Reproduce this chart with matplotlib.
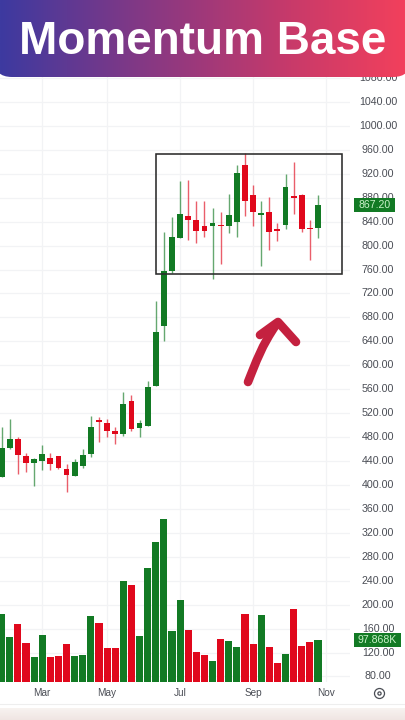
import numpy as np
import matplotlib
matplotlib.use("Agg")
import matplotlib.pyplot as plt
from matplotlib.patches import Rectangle, FancyBboxPatch, PathPatch
from matplotlib.path import Path

opens  = [414,461,476,449,437,440,445,448,426,415,432,452,507,504,490,486,541,495,499,565,665,758,812,849,842,832,832,834,833,839,935,885,851,856,826,834,882,885,830,829]
closes = [462,476,450,437,443,452,435,428,417,438,450,497,505,490,485,535,493,503,564,656,757,814,852,843,824,825,838,832,851,922,874,857,855,822,824,898,880,828,827,867.2]
highs  = [497,510,481,453,445,466,453,448,435,443,460,515,513,511,497,555,551,509,574,708,822,847,908,910,874,874,863,856,887,935,954,901,874,881,838,919,940,886,843,884]
lows   = [414,460,418,422,399,425,425,426,388,415,429,446,472,481,469,482,491,481,499,565,641,754,812,810,805,815,745,770,821,815,849,833,766,793,808,827,852,823,776,812]
volumes_k = [157,105,135,89,58,108,58,60,87,59,62,153,136,78,78,233,223,106,264,324,376,118,189,119,69,62,49,99,95,81,157,88,155,80,45,65,169,83,92,97.868]
month_positions = [5,13,22,31,40]
month_labels = ["Mar","May","Jul","Sep","Nov"]
price_ticks = list(range(80,1081,40))
last_price = "867.20"
last_volume = "97.868K"
title = "Momentum Base"

GREEN="#127a24"; RED="#e0081c"; TXT="#4a4d55"; GRID="#f2f3f5"
W,H=405,720
fig=plt.figure(figsize=(W/100,H/100),dpi=100,facecolor="white")
plt.rcParams['font.family']=['Liberation Sans','DejaVu Sans']

# price axis: pixel mapping x = 1.67 + 8.11 i ; y = 102 + (1040-p)*0.5984
PW=350
ax=fig.add_axes([0,(H-682)/H,PW/W,682/H])
ax.set_xlim(-1.67/8.11,(PW-1.67)/8.11)
ax.set_ylim(1040-(682-102)/0.5984,1040+102/0.5984)
for s in ax.spines.values(): s.set_visible(False)
ax.tick_params(left=False,bottom=False,labelleft=False,labelbottom=False)
ax.set_facecolor("white")
ax.grid(False)
for m in month_positions: ax.axvline(m,color=GRID,lw=0.9,zorder=0)
for p in price_ticks: ax.axhline(p,color=GRID,lw=0.9,zorder=0)

idx=np.arange(len(opens))
colors=[GREEN if c>=o else RED for o,c in zip(opens,closes)]
ax.vlines(idx,lows,highs,colors=colors,lw=1.0,alpha=0.65,zorder=2)
bot=[min(o,c) for o,c in zip(opens,closes)]
hgt=[max(abs(o-c),3) for o,c in zip(opens,closes)]
ax.bar(idx,hgt,bottom=bot,width=0.72,color=colors,lw=0,zorder=3)

# volume axis, same frame, independent scale (2.31 K per px)
vax=fig.add_axes(ax.get_position(),frameon=False)
vax.set_xlim(ax.get_xlim()); vax.set_ylim(0,682*2.31)
vax.axis("off")
vax.bar(idx,volumes_k,width=0.88,color=colors,lw=0,zorder=3)

# overlay in figure pixels (y down)
ov=fig.add_axes([0,0,1,1],frameon=False)
ov.set_xlim(0,W); ov.set_ylim(H,0); ov.axis("off")

# callout rectangle on the price scale
ax.add_patch(Rectangle((19.0,752.6),23.0,200.5,fill=False,ec="#2b2b2b",lw=1.15,zorder=6,clip_on=False))

# arrow
arrow=Path([(248,382),(256,362),(262,345),(276,325)],[Path.MOVETO,Path.CURVE4,Path.CURVE4,Path.CURVE4])
ov.add_patch(PathPatch(arrow,fill=False,ec="#c4213f",lw=6.2,capstyle="round"))
head=Path([(260,335),(278,322),(296,342)],[Path.MOVETO,Path.LINETO,Path.LINETO])
ov.add_patch(PathPatch(head,fill=False,ec="#c4213f",lw=6.2,capstyle="round",joinstyle="round"))

# axis labels
for p in price_ticks:
    y=102+(1040-p)*0.5984
    if y<77 or p==80 and False: continue
    ov.text(378,y,f"{p:.2f}",ha="center",va="center",fontsize=7.7,color=TXT,family=['Liberation Sans'])
for m,l in zip(month_positions,month_labels):
    ov.text(1.67+8.11*m,693.5,l,ha="center",va="center",fontsize=7.2,color=TXT)

ov.add_patch(Rectangle((354,198),41,13.5,fc=GREEN,ec="none",zorder=5))
ov.text(374.5,205,last_price,ha="center",va="center",fontsize=7.6,color="#c9f2c9",zorder=6)
ov.add_patch(Rectangle((354,633),47,13.5,fc=GREEN,ec="none",zorder=5))
ov.text(377.5,640,last_volume,ha="center",va="center",fontsize=7.6,color="#c9f2c9",zorder=6)

# gear-like circle
ov.add_patch(plt.Circle((379.5,693.5),5,fill=False,ec=TXT,lw=0.9))
ov.add_patch(plt.Circle((379.5,693.5),1.6,fill=False,ec=TXT,lw=0.9))

# bottom
ov.plot([0,W],[703.5,703.5],color="#eeeeee",lw=0.8)
grad=np.linspace(0,1,12)[:,None,None]*np.array([-0.03,-0.05,-0.05])+np.array([0.97,0.95,0.94])
grad=np.clip(grad,0,1)
ov.imshow(np.ones((12,1,3))*0.98*grad/0.98,extent=(0,W,720,708),aspect="auto",zorder=4)

# banner
g=np.zeros((2,256,3))
c0=np.array([0x3d,0x3a,0xa0])/255; c1=np.array([0x80,0x38,0x86])/255; c2=np.array([0xc8,0x3a,0x6a])/255; c3=np.array([0xf2,0x40,0x5c])/255
t=np.linspace(0,1,256)
for k in range(3): g[:,:,k]=np.interp(t,[0,0.33,0.72,1],[c0[k],c1[k],c2[k],c3[k]])
im=ov.imshow(g,extent=(0,W,78,-2),aspect="auto",zorder=7,interpolation="bilinear")
clip=FancyBboxPatch((-6,-40),W+12,117,boxstyle="round,pad=0,rounding_size=18",transform=ov.transData,fc="none",ec="none")
ov.add_patch(clip); im.set_clip_path(clip)
ov.text(203,41.5,title,ha="center",va="center",fontsize=33,fontweight="bold",color="white",zorder=8,family=['Liberation Sans'])
ov.set_xlim(0,W); ov.set_ylim(H,0)
fig.savefig("out.png",dpi=100)
